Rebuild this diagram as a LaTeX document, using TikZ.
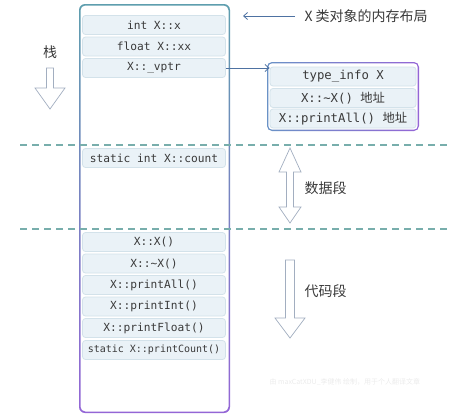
\documentclass[tikz,border=0pt]{standalone}
\usepackage{fontspec}
\setmonofont{DejaVu Sans Mono}
\newfontfamily\cjk{Noto Sans CJK SC}
\usetikzlibrary{arrows.meta}
\definecolor{cellfill}{HTML}{EAF2F7}
\definecolor{cellline}{HTML}{D3E2EA}
\definecolor{boxtop}{HTML}{5E9EAE}
\definecolor{boxbot}{HTML}{9466D6}
\definecolor{boxleft}{HTML}{6A92C6}
\definecolor{dashline}{HTML}{78AEAC}
\definecolor{hollow}{HTML}{A2AEC0}
\definecolor{txt}{HTML}{3A3A3A}
\definecolor{ptr}{HTML}{4E72A2}

\begin{document}
\begin{tikzpicture}[x=1pt,y=-1pt,
    cell/.style={draw=cellline,fill=cellfill,rounded corners=3pt,line width=.8pt,
      minimum width=143pt,minimum height=19pt,inner sep=0pt,
      font=\ttfamily\fontsize{11.2}{12}\selectfont,text=txt},
    vcell/.style={cell,minimum width=146pt,font=\ttfamily\fontsize{12.3}{13}\selectfont},
    label/.style={font=\cjk\fontsize{14}{16}\selectfont,text=txt},
    seg/.style={dashline,line width=1.2pt,dash pattern=on 7pt off 5pt},
    bigarrow/.style={draw=hollow,fill=white,line width=.7pt,line join=miter}]
        \useasboundingbox (0,0) rectangle (474,418);

        % the object box, border shaded from top to bottom
        \shade[top color=boxtop,bottom color=boxbot,rounded corners=6pt]
          (79,4) rectangle (230,413);
        \fill[white,rounded corners=5pt] (80.5,5.5) rectangle (228.5,411.5);

        \node[cell] (ix) at (154,25) {int X::x};
        \node[cell] (fxx) at (154,46.5) {float X::xx};
        \node[cell] (vptr) at (154,68) {X::\_vptr};

        \node[cell] (cnt) at (154,158) {static int X::count};

        \node[cell] (ctor) at (154,242) {X::X()};
        \node[cell] (dtor) at (154,263.5) {X::\textasciitilde X()};
        \node[cell] (pall) at (154,285) {X::printAll()};
        \node[cell] (pint) at (154,306.5) {X::printInt()};
        \node[cell] (pflt) at (154,328) {X::printFloat()};
        \node[cell,font=\ttfamily\fontsize{10}{12}\selectfont] (pcnt) at (154,350)
          {static X::printCount()};

        % virtual table
        \shade[left color=boxleft,right color=boxbot,rounded corners=5pt]
          (267,62) rectangle (419,131);
        \fill[white,rounded corners=4pt] (268.3,63.3) rectangle (417.7,129.7);
        \node[vcell] (tinfo) at (343,76.5) {type\_info X};
        \node[vcell] (vdtor) at (343,98) {X::\textasciitilde X() {\cjk 地址}};
        \node[vcell] (vpall) at (343,118.5) {X::printAll() {\cjk 地址}};

        \draw[ptr,line width=.8pt,-{Straight Barb[length=4pt,width=7pt]}]
          (vptr.east) -- (vptr.east -| tinfo.west);

        % title
        \node[label,anchor=west] (title) at (301,16) {X 类对象的内存布局};
        \coordinate (top) at (243,16);
        \draw[ptr,line width=.8pt,-{Straight Barb[length=4pt,width=7pt]}]
          (title.west) ++(-6,0) -- (top);

        % segments
        \draw[seg] (20,145) -- (448,145);
        \draw[seg] (20,229) -- (448,229);

        \node[label] (stack) at (50,52) {栈};
        \draw[bigarrow] (46.5,68) -- (53.5,68) -- (53.5,88) -- (65,88) -- (50,109)
          -- (35,88) -- (46.5,88) -- cycle;

        \draw[bigarrow] (290,148) -- (301,172) -- (293.5,172) -- (293.5,207)
          -- (301,207) -- (290,223) -- (279,207) -- (286.5,207) -- (286.5,172)
          -- (279,172) -- cycle;
        \node[label,anchor=west] (data) at (301,188) {数据段};

        \draw[bigarrow] (285.5,260) -- (294.5,260) -- (294.5,318) -- (305,318)
          -- (290,338) -- (275,318) -- (285.5,318) -- cycle;
        \node[label,anchor=west] (code) at (301,291) {代码段};

        \node[font=\cjk\fontsize{7}{8}\selectfont,text=black!8,anchor=west] (mark)
          at (266,382) {由 maxCatXDU\_李健伟 绘制，用于个人翻译文章};
\end{tikzpicture}
\end{document}
